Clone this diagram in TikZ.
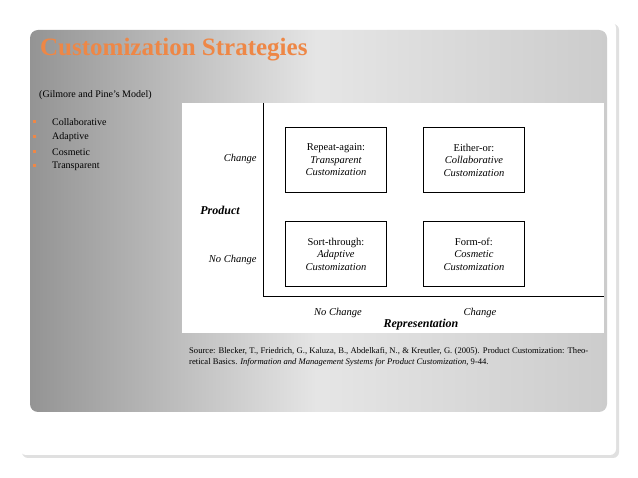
\documentclass[tikz,border=0pt]{standalone}
\usepackage{fontspec}
\setmainfont{Liberation Serif}
\definecolor{ttl}{RGB}{238,135,70}
\begin{document}
\begin{tikzpicture}[x=1pt,y=-1pt,
  qbox/.style={draw,line width=0.9pt,minimum width=101pt,minimum height=65pt,anchor=north west,align=center,font=\fontsize{10.5}{12.5}\selectfont,inner sep=0pt},
  lab/.style={font=\fontsize{10.5}{12}\selectfont\itshape},
  bul/.style={anchor=west,font=\fontsize{10}{12}\selectfont}]
\useasboundingbox (0,0) rectangle (638,478);
\fill[white] (0,0) rectangle (638,478);
\fill[black!12,rounded corners=6pt] (22,24) rectangle (619,458);
\fill[white,rounded corners=6pt] (20,22) rectangle (616,455);
\shade[left color=black!42,right color=black!20,middle color=black!10,rounded corners=8pt] (30,30) rectangle (607,412);
\node[anchor=west,font=\fontsize{25}{28}\selectfont\bfseries,text=ttl,inner sep=0pt] (title) at (40,50) {Customization Strategies};
\node[bul,inner sep=0pt] (sub) at (39,95) {(Gilmore and Pine's Model)};
\foreach \t/\y [count=\i] in {Collaborative/122,Adaptive/137,Cosmetic/152,Transparent/166}{
  \fill[ttl] (33,\y-1.5) rectangle (36,\y+1.5);
  \node[bul,inner sep=0pt] (b\i) at (52,\y) {\t};}
\fill[white] (182,103) rectangle (604,333);
\coordinate (top) at (263,103);
\coordinate (orig) at (263,297);
\coordinate (right) at (604,297);
\draw[line width=1pt] (top) -- (orig) -- (right);
\node[qbox] (q1) at (285,127) {Repeat-again:\\\itshape Transparent\\\itshape Customization};
\node[qbox] (q2) at (423,127) {Either-or:\\\itshape Collaborative\\\itshape Customization};
\node[qbox] (q3) at (285,221) {Sort-through:\\\itshape Adaptive\\\itshape Customization};
\node[qbox] (q4) at (423,221) {Form-of:\\\itshape Cosmetic\\\itshape Customization};
\node[lab,anchor=east] (yc) at (260,159) {Change};
\node[lab,anchor=east] (yn) at (260,260) {No Change};
\node[font=\fontsize{12}{14}\selectfont\bfseries\itshape] (yp) at (220,210) {Product};
\node[lab] (xn) at (338,313) {No Change};
\node[lab] (xc) at (480,313) {Change};
\node[font=\fontsize{12}{14}\selectfont\bfseries\itshape] (xr) at (421,325) {Representation};
\node[anchor=north west,text width=399pt,align=justify,font=\fontsize{8.6}{11}\selectfont,inner sep=0pt] (src) at (189,347) {Source: Blecker, T., Friedrich, G., Kaluza, B., Abdelkafi, N., \& Kreutler, G. (2005). Product Customization: Theoretical Basics. \textit{Information and Management Systems for Product Customization}, 9-44.};
\end{tikzpicture}
\end{document}
